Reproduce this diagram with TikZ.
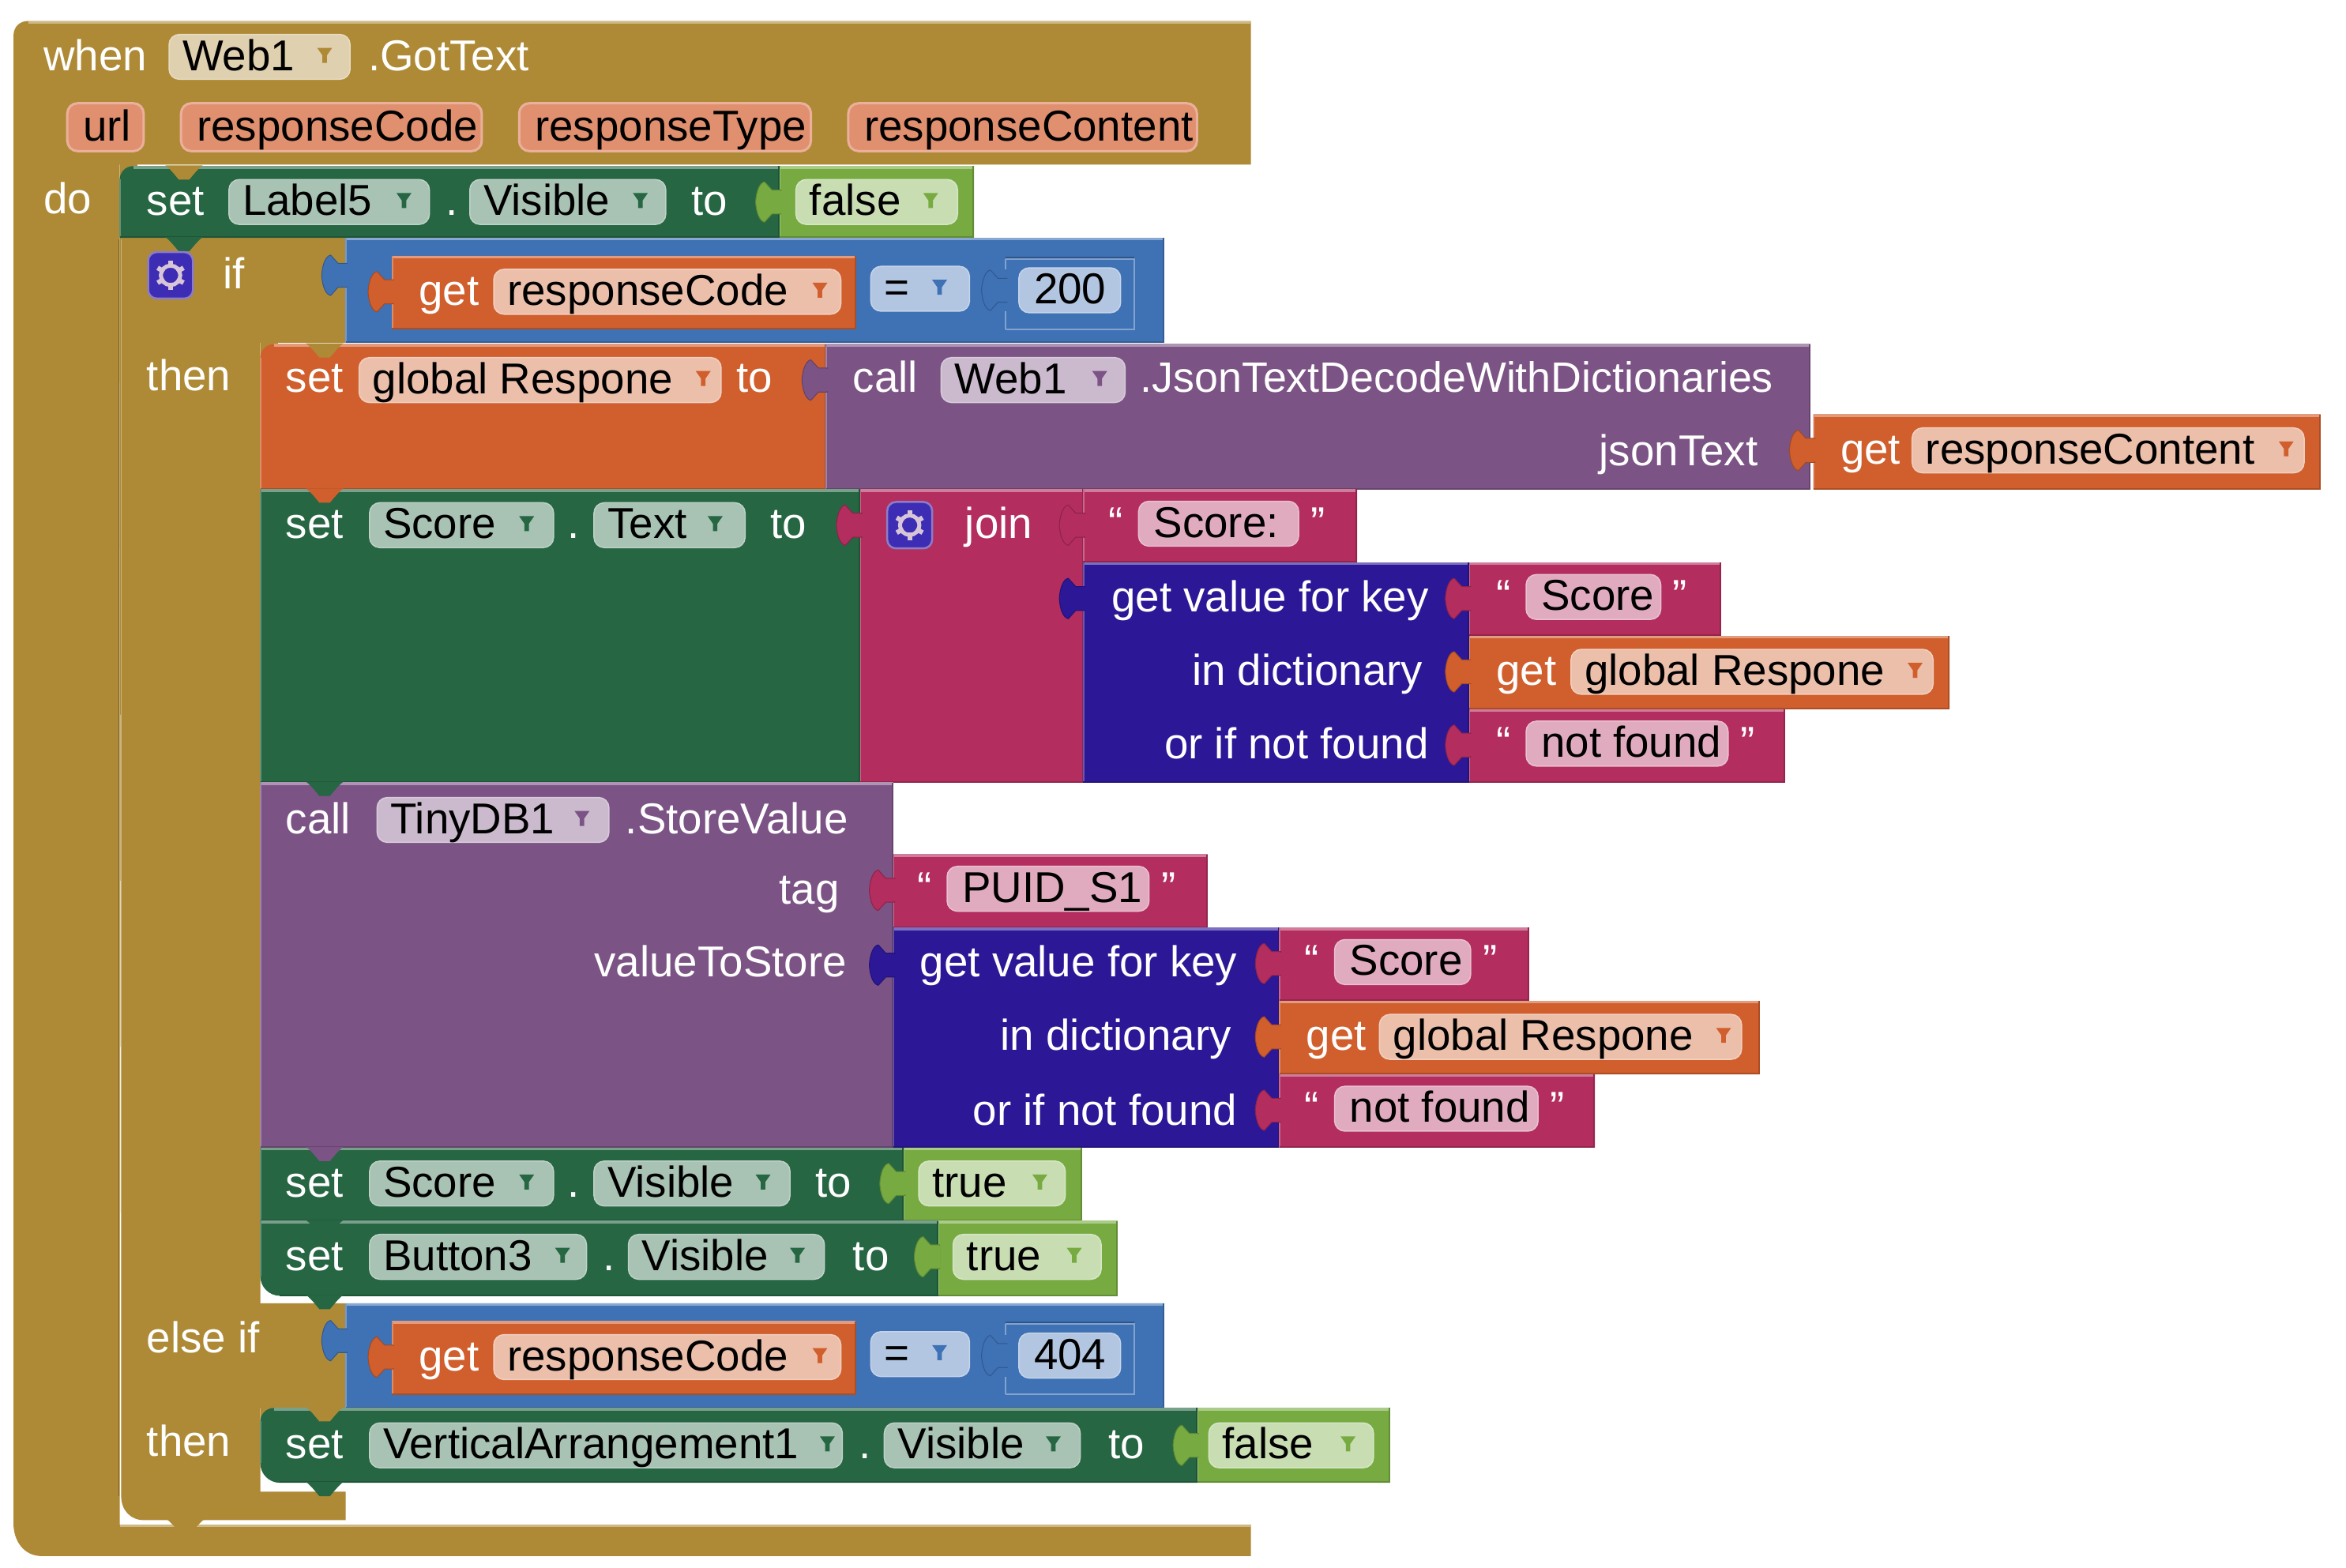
\documentclass[tikz,border=0pt]{standalone}
\usepackage{fontspec}
\setmainfont{Liberation Sans}
\definecolor{gold}{HTML}{AE8A36}
\definecolor{setg}{HTML}{266643}
\definecolor{boolg}{HTML}{77AB41}
\definecolor{logb}{HTML}{3F71B5}
\definecolor{varo}{HTML}{D05F2D}
\definecolor{proc}{HTML}{7C5385}
\definecolor{txtm}{HTML}{B32D5E}
\definecolor{dict}{HTML}{2C1796}
\definecolor{pillc}{HTML}{E0906F}
\definecolor{pille}{HTML}{EBB09B}
\definecolor{gearb}{HTML}{3D2DB4}
\definecolor{gearl}{HTML}{8D7CC6}
\definecolor{gearf}{HTML}{D8C6D8}
\newcounter{nn}
\tikzset{
  wlab/.style={text=white,inner sep=0pt,font=\fontsize{54.7}{60}\selectfont},
  blab/.style={text=black,inner sep=0pt,font=\fontsize{54.7}{60}\selectfont},
}
% left-aligned white label
\newcommand\lw[3]{\stepcounter{nn}\node[wlab,anchor=base west] (n\arabic{nn}) at (#1,#2+10) {#3};}
% right-aligned white label
\newcommand\lr[3]{\stepcounter{nn}\node[wlab,anchor=base east] (n\arabic{nn}) at (#1,#2+10) {#3};}
% block: colour x1 y1 x2 y2 rtop rbottom
\newcommand\blk[7]{%
  \fill[#1] ({#2+#6},#3) -- (#4,#3) -- (#4,#5) -- ({#2+#7},#5)
    .. controls ({#2+#7*.45},#5) and (#2,{#5-#7*.45}) .. (#2,{#5-#7})
    -- (#2,{#3+#6}) .. controls (#2,{#3+#6*.45}) and ({#2+#6*.45},#3) .. ({#2+#6},#3) -- cycle;
  \draw[#1!62!white,line width=3.5pt] ({#2+#6},#3+.8) -- (#4,#3+.8);
  \draw[#1!72!white,line width=1.5pt] (#2+.3,{#3+#6}) -- (#2+.3,{#5-#7});
  \draw[#1!82!black,line width=2pt] (#4-.4,#3) -- (#4-.4,#5-.4) -- ({#2+#7},#5-.4);
}
% output tab: colour xedge ycentre
\newcommand\tabb[3]{%
  \filldraw[fill=#1,draw=#1!78!black,line width=1pt,shift={(#2,#3)}]
    (1,-8) -- (-5,-8) -- (-10,-13.5) .. controls (-13,-13) and (-15.5,-8) .. (-16,0)
    .. controls (-15.5,8) and (-13,13) .. (-10,13.5) -- (-5,8) -- (1,8) -- cycle;
  \fill[#1,shift={(#2,#3)}] (-1,-7.5) rectangle (1.5,7.5);}
% statement notch: colour xblock y
\newcommand\notch[3]{%
  \fill[#1,shift={(#2,#3)}] (30.5,-.5) .. controls (33,1) and (37,6) .. (39.5,9)
    -- (46.5,9) .. controls (49,6) and (53,1) .. (55.5,-.5) -- cycle;}
% dropdown field: [arrow offset] colour x1 x2 y text
\newcommand\fld[6][17]{%
  \filldraw[fill=#2!40!white,draw=#2!30!white,line width=1.5pt,rounded corners=13pt]
    (#3,#5-15) rectangle (#4,#5+15);
  \stepcounter{nn}\node[blab,anchor=base west] (n\arabic{nn}) at (#3+9,#5+9) {#6};
  \fill[#2,shift={(#4-#1,#5)}] (-5,-6) -- (5,-6) -- (1.5,-1) -- (1.5,4) -- (-1.5,4) -- (-1.5,-1) -- cycle;}
% plain field: colour x1 x2 y text
\newcommand\pfld[5]{%
  \filldraw[fill=#1!40!white,draw=#1!30!white,line width=1.5pt,rounded corners=13pt]
    (#2,#4-15) rectangle (#3,#4+15);
  \stepcounter{nn}\node[blab,anchor=base west] (n\arabic{nn}) at (#2+10,#4+9) {#5};}
% event parameter pill
\newcommand\pill[4]{%
  \filldraw[fill=pillc,draw=pille,line width=3pt,rounded corners=13pt]
    (#1,#3-16) rectangle (#2,#3+16);
  \stepcounter{nn}\node[blab,anchor=base west] (n\arabic{nn}) at (#1+10.5,#3+9) {#4};}
% string block: x1 x2 y1 y2 fx1 fx2 text
\newcommand\strb[7]{%
  \blk{txtm}{#1}{#3}{#2}{#4}{0}{0}
  \tabb{txtm}{#1}{#3+24}
  \pfld{txtm}{#5}{#6}{#3+23}{#7}
  \lw{#5-20}{#3+22}{“}
  \lw{#6+8}{#3+22}{”}}
% get block: [arrow offset] x1 x2 y1 y2 fx1 fx2 text
\newcommand\getb[8][12]{%
  \blk{varo}{#2}{#4}{#3}{#5}{0}{0}
  \tabb{varo}{#2}{#4+24}
  \lw{#2+18}{#4+23}{get}
  \fld[#1]{varo}{#6}{#7}{#4+24}{#8}}
% gear icon
\newcommand\gearic[2]{%
  \filldraw[fill=gearb,draw=gearl,line width=2.5pt,rounded corners=11pt]
    (#1-15,#2-15.5) rectangle (#1+15,#2+15.5);
  \draw[gearf,line width=5pt] (#1,#2) circle[radius=6.5];
  \foreach \a in {30,90,150,210,270,330}{
    \draw[gearf,line width=6pt,shift={(#1,#2)}] (\a:5) -- (\a:10);}}
% comparison expression row: y1 y2 number
\newcommand\cmpr[3]{%
  \blk{logb}{231}{#1}{778}{#2}{0}{0}
  \tabb{logb}{231}{#1+25}
  \getb[14]{262}{572}{#1+12}{#1+61}{330}{562}{responseCode}
  \fld[20]{logb}{582}{648}{#1+34}{=}
  \tabb{logb}{672}{#1+35}
  \draw[logb!75!black,line width=2pt] (672,#1+13) -- (758,#1+13);
  \draw[logb!65!white,line width=2pt] (672,#1+61) -- (758,#1+61) -- (758,#1+14) -- (672,#1+14);
  \draw[logb!65!white,line width=2pt] (672,#1+14) -- (672,#1+21) (672,#1+49) -- (672,#1+61);
  \pfld{logb}{681}{749}{#1+35}{#3}}

\begin{document}
\begin{tikzpicture}[x=1.8941pt,y=-1.8941pt]
\useasboundingbox (0,0) rectangle (1568,1047.5);
% ---------- event block ----------
\fill[gold] (19,14) -- (836,14) -- (836,110) -- (80,110) -- (80,1019) -- (836,1019) -- (836,1040)
  -- (28,1040) .. controls (16,1040) and (9,1030) .. (9,1018) -- (9,24) .. controls (9,18) and (13,14) .. (19,14) -- cycle;
\draw[gold!60!white,line width=3pt] (19,14.8) -- (836,14.8);
\draw[gold!60!white,line width=3pt] (80,1019.8) -- (836,1019.8);
\fill[gold] (80,108) rectangle (92,122);
\lw{29}{37}{when}
\fld{gold}{113}{234}{38}{Web1}
\lw{246}{37}{.GotText}
\pill{45}{96}{85}{url}
\pill{121}{322}{85}{responseCode}
\pill{347}{542}{85}{responseType}
\pill{567}{800}{85}{responseContent}
\lw{29}{133}{do}
% ---------- if block ----------
\fill[gold] (80,159) -- (231,159) -- (231,229) -- (174,229) -- (174,871) -- (231,871) -- (231,941)
  -- (174,941) -- (174,997) -- (231,997) -- (231,1016) -- (96,1016)
  .. controls (88,1016) and (81,1010) .. (81,1000) -- cycle;
\fill[gold] (174,227) rectangle (186,242);
\fill[gold] (174,939) rectangle (186,954);
\draw[gold!70!black,line width=1.2pt] (79.6,160) -- (79.6,1000);
\draw[gold!65!white,line width=1.2pt] (81,160) -- (81,1000);
% set Label5
\blk{boolg}{521}{111}{651}{159}{0}{0}
\blk{setg}{80}{111}{521}{159}{9}{0}
\notch{gold}{80}{111}
\lw{98}{134}{set}
\fld{setg}{153}{287}{135}{Label5}
\lw{298}{134}{.}
\fld{setg}{314}{445}{135}{Visible}
\lw{462}{134}{to}
\tabb{boolg}{521}{135}
\fld[18]{boolg}{532}{640}{135}{false}
\notch{setg}{80}{159}
\gearic{114}{184}
\lw{149}{183}{if}
\cmpr{159}{229}{200}
\lw{98}{251}{then}
% set global Respone
\blk{varo}{174}{230}{552}{327}{9}{0}
\notch{gold}{174}{230}
\lw{191}{252}{set}
\fld[12]{varo}{240}{482}{254}{global Respone}
\lw{492}{252}{to}
\blk{proc}{552}{230}{1210}{327}{0}{0}
\tabb{proc}{552}{254}
\lw{570}{252}{call}
\fld{proc}{629}{752}{254}{Web1}
\lw{762}{252}{\fontsize{53.8}{60}\selectfont .JsonTextDecodeWithDictionaries}
\lr{1175}{301}{jsonText}
\getb{1212}{1551}{277}{327}{1278}{1540}{responseContent}
% set Score.Text
\blk{setg}{174}{327}{575}{523}{0}{0}
\notch{varo}{174}{327}
\lw{191}{350}{set}
\fld[18]{setg}{247}{370}{351}{Score}
\lw{379}{350}{.}
\fld[20]{setg}{397}{498}{351}{Text}
\lw{515}{350}{to}
\blk{txtm}{575}{327}{724}{523}{0}{0}
\tabb{txtm}{575}{351}
\gearic{608}{351}
\lw{645}{350}{join}
\strb{724}{907}{327}{376}{761}{868}{Score:}
\blk{dict}{724}{376}{982}{523}{0}{0}
\tabb{dict}{724}{400}
\lr{955}{399}{get value for key}
\lr{951}{448}{in dictionary}
\lr{955}{497}{or if not found}
\strb{982}{1150}{376}{425}{1020}{1110}{Score}
\getb{982}{1303}{425}{474}{1050}{1292}{global Respone}
\strb{982}{1193}{474}{523}{1020}{1155}{not found}
% call TinyDB1
\blk{proc}{174}{523}{597}{767}{0}{0}
\notch{setg}{174}{523}
\lw{191}{547}{call}
\fld[18]{proc}{252}{407}{548}{TinyDB1}
\lw{418}{547}{.StoreValue}
\lr{561}{594}{tag}
\lr{566}{643}{valueToStore}
\strb{597}{807}{571}{620}{633}{768}{PUID\_S1}
\blk{dict}{597}{620}{855}{767}{0}{0}
\tabb{dict}{597}{645}
\lr{827}{643}{get value for key}
\lr{823}{692}{in dictionary}
\lr{827}{742}{or if not found}
\strb{855}{1022}{620}{669}{892}{983}{Score}
\getb{855}{1176}{669}{718}{922}{1164}{global Respone}
\strb{855}{1066}{718}{767}{892}{1028}{not found}
% set Score.Visible
\blk{boolg}{604}{767}{723}{816}{0}{0}
\blk{setg}{174}{767}{604}{816}{0}{0}
\notch{proc}{174}{767}
\lw{191}{790}{set}
\fld[18]{setg}{247}{370}{791}{Score}
\lw{379}{790}{.}
\fld[18]{setg}{397}{528}{791}{Visible}
\lw{545}{790}{to}
\tabb{boolg}{604}{791}
\fld{boolg}{614}{712}{791}{true}
% set Button3.Visible
\blk{boolg}{627}{816}{747}{866}{0}{0}
\blk{setg}{174}{816}{627}{866}{0}{13}
\notch{setg}{174}{816}
\lw{191}{839}{set}
\fld[16]{setg}{247}{392}{840}{Button3}
\lw{403}{839}{.}
\fld[18]{setg}{420}{551}{840}{Visible}
\lw{570}{839}{to}
\tabb{boolg}{627}{840}
\fld[18]{boolg}{637}{736}{840}{true}
\notch{setg}{174}{866}
% else if
\lw{98}{894}{else if}
\cmpr{871}{941}{404}
\lw{98}{963}{then}
% set VerticalArrangement1
\blk{boolg}{800}{941}{929}{991}{0}{0}
\blk{setg}{174}{941}{800}{991}{9}{13}
\notch{gold}{174}{941}
\lw{191}{965}{set}
\fld[10]{setg}{247}{563}{966}{VerticalArrangement1}
\lw{574}{965}{.}
\fld[18]{setg}{591}{722}{966}{Visible}
\lw{741}{965}{to}
\tabb{boolg}{800}{966}
\fld{boolg}{808}{918}{966}{false}
\notch{setg}{174}{991}
\notch{gold}{81}{1016}
\end{tikzpicture}
\end{document}
